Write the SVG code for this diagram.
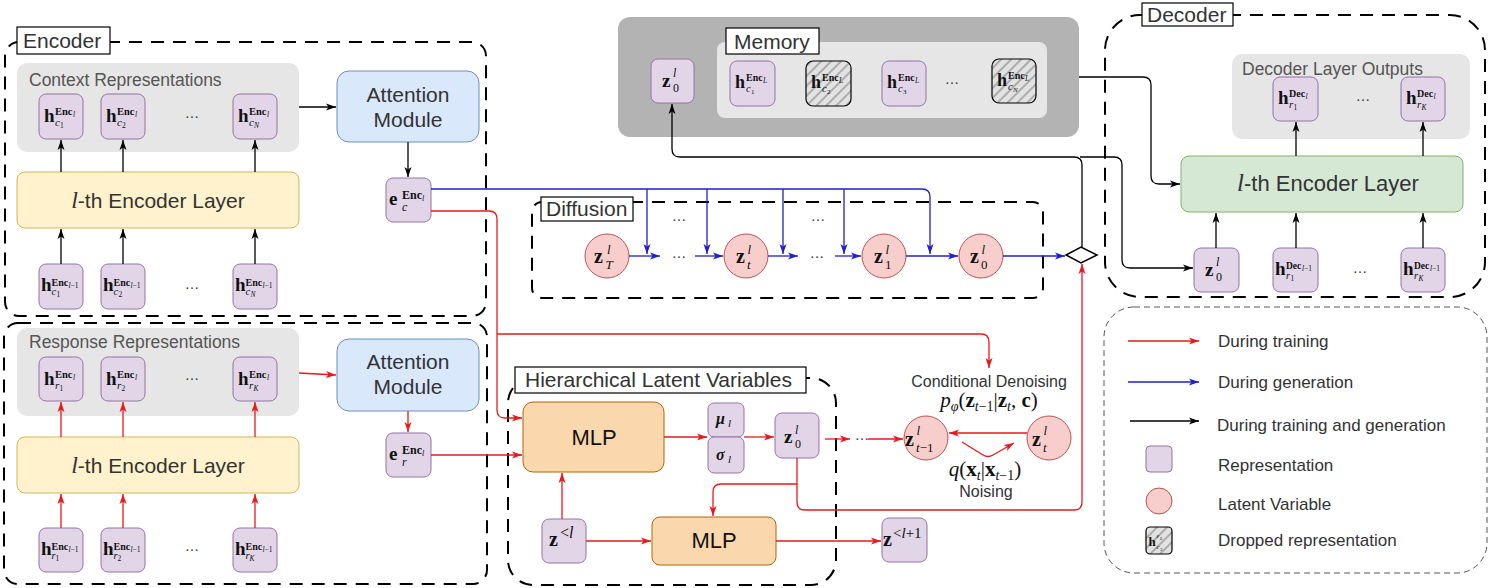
<svg xmlns="http://www.w3.org/2000/svg" width="1488" height="588" viewBox="0 0 1488 588">
<defs>
<style>
.t{font-family:"Liberation Sans",Arial,sans-serif;fill:#333}
.tg{font-family:"Liberation Sans",Arial,sans-serif;fill:#555;font-size:17.5px}
.m{font-family:"Liberation Serif","Times New Roman",serif;fill:#111}
.b{font-weight:bold}
.i{font-style:italic}
.bi{font-weight:bold;font-style:italic}
.rep{fill:#e1d5e7;stroke:#9673a6;stroke-width:1}
.lat{fill:#f8cecc;stroke:#b85450;stroke-width:1}
.grey{fill:#e6e6e6}
.grp{fill:none;stroke:#000;stroke-width:2;stroke-dasharray:13 9}
.lbl{fill:#fff;stroke:#000;stroke-width:1.2}
.att{fill:#dae8fc;stroke:#6c8ebf;stroke-width:1}
.yel{fill:#fff2cc;stroke:#d6b656;stroke-width:1}
.grn{fill:#d5e8d4;stroke:#82b366;stroke-width:1}
.mlp{fill:#fad7ac;stroke:#b46504;stroke-width:1}
.hat{fill:url(#hatch);stroke:#000;stroke-width:1.2}
.k{fill:none;stroke:#000;stroke-width:1.3;marker-end:url(#ak)}
.r{fill:none;stroke:#e8191c;stroke-width:1.3;marker-end:url(#ar)}
.u{fill:none;stroke:#1f1fcc;stroke-width:1.3;marker-end:url(#au)}
.dots{font-family:"Liberation Serif",serif;font-size:14px;fill:#333;text-anchor:middle}
</style>
<marker id="ak" viewBox="0 0 10 10" refX="10" refY="5" markerWidth="10" markerHeight="10" markerUnits="userSpaceOnUse" orient="auto"><path d="M0,1.5 L10,5 L0,8.5 L2.5,5 Z" fill="#000"/></marker>
<marker id="ar" viewBox="0 0 10 10" refX="10" refY="5" markerWidth="10" markerHeight="10" markerUnits="userSpaceOnUse" orient="auto"><path d="M0,1.5 L10,5 L0,8.5 L2.5,5 Z" fill="#e8191c"/></marker>
<marker id="au" viewBox="0 0 10 10" refX="10" refY="5" markerWidth="10" markerHeight="10" markerUnits="userSpaceOnUse" orient="auto"><path d="M0,1.5 L10,5 L0,8.5 L2.5,5 Z" fill="#1f1fcc"/></marker>
<pattern id="hatch" patternUnits="userSpaceOnUse" width="7" height="7" patternTransform="rotate(45)"><rect width="7" height="7" fill="#e2e2e2"/><line x1="1" y1="0" x2="1" y2="7" stroke="#9a9a9a" stroke-width="1.5"/></pattern>
</defs>
<rect width="1488" height="588" fill="#fff"/>

<!-- ================= ENCODER (context) ================= -->
<g id="encoder-context">
<rect class="grp" x="5" y="42" width="481" height="274" rx="14"/>
<rect class="lbl" x="17" y="27" width="93" height="27"/>
<text class="t" x="23" y="48" font-size="21">Encoder</text>
<rect class="grey" x="17" y="63" width="282" height="89" rx="10"/>
<text class="tg" x="29" y="86">Context Representations</text>
</g>
<g id="h-c1">
<rect class="rep" x="39" y="94" width="44" height="45" rx="7"/>
<text class="m"><tspan class="b" x="44" y="122" font-size="19">h</tspan><tspan class="b" x="55" y="115" font-size="10.5">Enc</tspan><tspan class="i" x="73" y="117" font-size="7.5">l</tspan><tspan class="i" x="55" y="126" font-size="11">c</tspan><tspan x="60" y="128" font-size="7.5">1</tspan></text>
</g>
<g id="h-c2">
<rect class="rep" x="101" y="94" width="44" height="45" rx="7"/>
<text class="m"><tspan class="b" x="106" y="122" font-size="19">h</tspan><tspan class="b" x="117" y="115" font-size="10.5">Enc</tspan><tspan class="i" x="135" y="117" font-size="7.5">l</tspan><tspan class="i" x="117" y="126" font-size="11">c</tspan><tspan x="122" y="128" font-size="7.5">2</tspan></text>
</g>
<text class="dots" x="192" y="118">…</text>
<g id="h-cN">
<rect class="rep" x="233" y="94" width="44" height="45" rx="7"/>
<text class="m"><tspan class="b" x="238" y="122" font-size="19">h</tspan><tspan class="b" x="249" y="115" font-size="10.5">Enc</tspan><tspan class="i" x="267" y="117" font-size="7.5">l</tspan><tspan class="i" x="249" y="126" font-size="11">c</tspan><tspan class="i" x="254" y="128" font-size="7.5">N</tspan></text>
</g>
<g id="enc-layer-c">
<rect class="yel" x="17" y="172" width="282" height="56" rx="8"/>
<text class="t" x="158" y="208" font-size="21" text-anchor="middle"><tspan font-family="'Liberation Serif',serif" font-style="italic" font-size="24">l</tspan>-th Encoder Layer</text>
</g>
<g id="hprev-c1">
<rect class="rep" x="39" y="264" width="44" height="45" rx="7"/>
<text class="m"><tspan class="b" x="41" y="291" font-size="19">h</tspan><tspan class="b" x="51.5" y="285.5" font-size="10">Enc</tspan><tspan x="68.5" y="287.5" font-size="7.5"><tspan class="i">l</tspan>−1</tspan><tspan class="i" x="51.5" y="295" font-size="10.5">c</tspan><tspan x="56.5" y="297" font-size="7.5">1</tspan></text>
</g>
<g id="hprev-c2">
<rect class="rep" x="101" y="264" width="44" height="45" rx="7"/>
<text class="m"><tspan class="b" x="103" y="291" font-size="19">h</tspan><tspan class="b" x="113.5" y="285.5" font-size="10">Enc</tspan><tspan x="130.5" y="287.5" font-size="7.5"><tspan class="i">l</tspan>−1</tspan><tspan class="i" x="113.5" y="295" font-size="10.5">c</tspan><tspan x="118.5" y="297" font-size="7.5">2</tspan></text>
</g>
<text class="dots" x="192" y="289">…</text>
<g id="hprev-cN">
<rect class="rep" x="233" y="264" width="44" height="45" rx="7"/>
<text class="m"><tspan class="b" x="235" y="291" font-size="19">h</tspan><tspan class="b" x="245.5" y="285.5" font-size="10">Enc</tspan><tspan x="262.5" y="287.5" font-size="7.5"><tspan class="i">l</tspan>−1</tspan><tspan class="i" x="245.5" y="295" font-size="10.5">c</tspan><tspan class="i" x="250.5" y="297" font-size="7.5">N</tspan></text>
</g>
<g id="attention-c">
<rect class="att" x="337" y="71" width="142" height="71" rx="12"/>
<text class="t" x="408" y="102" font-size="21" text-anchor="middle">Attention</text>
<text class="t" x="408" y="127" font-size="21" text-anchor="middle">Module</text>
</g>
<g id="e-c">
<rect class="rep" x="386" y="178" width="45" height="44" rx="7"/>
<text class="m"><tspan class="b" x="389" y="205" font-size="19">e</tspan><tspan class="b" x="402" y="199" font-size="12">Enc</tspan><tspan class="i" x="422" y="201" font-size="8">l</tspan><tspan class="i" x="402" y="211" font-size="12">c</tspan></text>
</g>

<!-- ================= ENCODER (response) ================= -->
<g id="encoder-response">
<rect class="grp" x="4" y="323" width="483" height="261" rx="14"/>
<rect class="grey" x="17" y="328" width="282" height="88" rx="10"/>
<text class="tg" x="29" y="348">Response Representations</text>
</g>
<g id="h-r1">
<rect class="rep" x="39" y="357" width="44" height="44" rx="7"/>
<text class="m"><tspan class="b" x="44" y="385" font-size="19">h</tspan><tspan class="b" x="55" y="378" font-size="10.5">Enc</tspan><tspan class="i" x="73" y="380" font-size="7.5">l</tspan><tspan class="i" x="55" y="389" font-size="11">r</tspan><tspan x="59.5" y="391" font-size="7.5">1</tspan></text>
</g>
<g id="h-r2">
<rect class="rep" x="101" y="357" width="44" height="44" rx="7"/>
<text class="m"><tspan class="b" x="106" y="385" font-size="19">h</tspan><tspan class="b" x="117" y="378" font-size="10.5">Enc</tspan><tspan class="i" x="135" y="380" font-size="7.5">l</tspan><tspan class="i" x="117" y="389" font-size="11">r</tspan><tspan x="121.5" y="391" font-size="7.5">2</tspan></text>
</g>
<text class="dots" x="192" y="380">…</text>
<g id="h-rK">
<rect class="rep" x="233" y="357" width="44" height="44" rx="7"/>
<text class="m"><tspan class="b" x="238" y="385" font-size="19">h</tspan><tspan class="b" x="249" y="378" font-size="10.5">Enc</tspan><tspan class="i" x="267" y="380" font-size="7.5">l</tspan><tspan class="i" x="249" y="389" font-size="11">r</tspan><tspan class="i" x="253.5" y="391" font-size="7.5">K</tspan></text>
</g>
<g id="enc-layer-r">
<rect class="yel" x="17" y="437" width="282" height="56" rx="8"/>
<text class="t" x="158" y="473" font-size="21" text-anchor="middle"><tspan font-family="'Liberation Serif',serif" font-style="italic" font-size="24">l</tspan>-th Encoder Layer</text>
</g>
<g id="hprev-r1">
<rect class="rep" x="39" y="528" width="44" height="44" rx="7"/>
<text class="m"><tspan class="b" x="41" y="555" font-size="19">h</tspan><tspan class="b" x="51.5" y="549.5" font-size="10">Enc</tspan><tspan x="68.5" y="551.5" font-size="7.5"><tspan class="i">l</tspan>−1</tspan><tspan class="i" x="51.5" y="559" font-size="10.5">r</tspan><tspan x="55.5" y="561" font-size="7.5">1</tspan></text>
</g>
<g id="hprev-r2">
<rect class="rep" x="101" y="528" width="44" height="44" rx="7"/>
<text class="m"><tspan class="b" x="103" y="555" font-size="19">h</tspan><tspan class="b" x="113.5" y="549.5" font-size="10">Enc</tspan><tspan x="130.5" y="551.5" font-size="7.5"><tspan class="i">l</tspan>−1</tspan><tspan class="i" x="113.5" y="559" font-size="10.5">r</tspan><tspan x="117.5" y="561" font-size="7.5">2</tspan></text>
</g>
<text class="dots" x="192" y="551">…</text>
<g id="hprev-rK">
<rect class="rep" x="233" y="528" width="44" height="44" rx="7"/>
<text class="m"><tspan class="b" x="235" y="555" font-size="19">h</tspan><tspan class="b" x="245.5" y="549.5" font-size="10">Enc</tspan><tspan x="262.5" y="551.5" font-size="7.5"><tspan class="i">l</tspan>−1</tspan><tspan class="i" x="245.5" y="559" font-size="10.5">r</tspan><tspan class="i" x="249.5" y="561" font-size="7.5">K</tspan></text>
</g>
<g id="attention-r">
<rect class="att" x="337" y="339" width="142" height="72" rx="12"/>
<text class="t" x="408" y="369" font-size="21" text-anchor="middle">Attention</text>
<text class="t" x="408" y="394" font-size="21" text-anchor="middle">Module</text>
</g>
<g id="e-r">
<rect class="rep" x="386" y="433" width="45" height="44" rx="7"/>
<text class="m"><tspan class="b" x="389" y="460" font-size="19">e</tspan><tspan class="b" x="402" y="454" font-size="12">Enc</tspan><tspan class="i" x="422" y="456" font-size="8">l</tspan><tspan class="i" x="402" y="466" font-size="12">r</tspan></text>
</g>

<!-- ================= MEMORY ================= -->
<g id="memory">
<rect x="618" y="17" width="461" height="120" rx="12" fill="#b3b3b3"/>
<rect class="grey" x="717" y="42" width="330" height="76" rx="8"/>
<rect class="lbl" x="726" y="28" width="93" height="26"/>
<text class="t" x="734" y="49" font-size="21">Memory</text>
</g>
<g id="mem-z0">
<rect class="rep" x="651" y="59" width="43" height="44" rx="7"/>
<text class="m"><tspan class="b" x="662" y="87" font-size="19">z</tspan><tspan class="i" x="673" y="77" font-size="12">l</tspan><tspan x="673" y="92" font-size="12">0</tspan></text>
</g>
<g id="mem-h-c1">
<rect class="rep" x="730" y="61" width="45" height="45" rx="7"/>
<text class="m"><tspan class="b" x="735" y="88" font-size="18">h</tspan><tspan class="b" x="746" y="81" font-size="10">Enc</tspan><tspan class="i" x="763" y="83" font-size="7.5">L</tspan><tspan class="i" x="746" y="92" font-size="10.5">c</tspan><tspan x="751" y="94" font-size="7">1</tspan></text>
</g>
<g id="mem-h-c2">
<rect class="hat" x="806" y="61" width="45" height="45" rx="7"/>
<text class="m"><tspan class="b" x="811" y="88" font-size="18">h</tspan><tspan class="b" x="822" y="81" font-size="10">Enc</tspan><tspan class="i" x="839" y="83" font-size="7.5">L</tspan><tspan class="i" x="822" y="92" font-size="10.5">c</tspan><tspan x="827" y="94" font-size="7">2</tspan></text>
</g>
<g id="mem-h-c3">
<rect class="rep" x="882" y="61" width="44" height="45" rx="7"/>
<text class="m"><tspan class="b" x="887" y="88" font-size="18">h</tspan><tspan class="b" x="898" y="81" font-size="10">Enc</tspan><tspan class="i" x="915" y="83" font-size="7.5">L</tspan><tspan class="i" x="898" y="92" font-size="10.5">c</tspan><tspan x="903" y="94" font-size="7">3</tspan></text>
</g>
<text class="dots" x="952" y="84">…</text>
<g id="mem-h-cN">
<rect class="hat" x="992" y="59" width="44" height="44" rx="7"/>
<text class="m"><tspan class="b" x="997" y="86" font-size="18">h</tspan><tspan class="b" x="1008" y="79" font-size="10">Enc</tspan><tspan class="i" x="1025" y="81" font-size="7.5">L</tspan><tspan class="i" x="1008" y="90" font-size="10.5">c</tspan><tspan class="i" x="1013" y="92" font-size="7">N</tspan></text>
</g>

<!-- ================= DECODER ================= -->
<g id="decoder">
<rect class="grp" x="1105" y="15" width="380" height="282" rx="35"/>
<rect class="lbl" x="1142" y="3" width="91" height="23"/>
<text class="t" x="1147" y="22" font-size="21">Decoder</text>
<rect class="grey" x="1232" y="54" width="238" height="85" rx="10"/>
<text class="tg" x="1242" y="75">Decoder Layer Outputs</text>
</g>
<g id="dec-h-r1">
<rect class="rep" x="1273" y="77" width="45" height="44" rx="7"/>
<text class="m"><tspan class="b" x="1278" y="104" font-size="19">h</tspan><tspan class="b" x="1289" y="97" font-size="10">Dec</tspan><tspan class="i" x="1305.5" y="99" font-size="7.5">l</tspan><tspan class="i" x="1289" y="108" font-size="11">r</tspan><tspan x="1293.5" y="110" font-size="7.5">1</tspan></text>
</g>
<text class="dots" x="1363" y="101">…</text>
<g id="dec-h-rK">
<rect class="rep" x="1401" y="77" width="44" height="44" rx="7"/>
<text class="m"><tspan class="b" x="1406" y="104" font-size="19">h</tspan><tspan class="b" x="1417" y="97" font-size="10">Dec</tspan><tspan class="i" x="1433.5" y="99" font-size="7.5">l</tspan><tspan class="i" x="1417" y="108" font-size="11">r</tspan><tspan class="i" x="1421.5" y="110" font-size="7.5">K</tspan></text>
</g>
<g id="dec-layer">
<rect class="grn" x="1181" y="156" width="282" height="56" rx="8"/>
<text class="t" x="1328" y="191" font-size="22" text-anchor="middle"><tspan font-family="'Liberation Serif',serif" font-style="italic" font-size="25">l</tspan>-th Encoder Layer</text>
</g>
<g id="dec-z0">
<rect class="rep" x="1194" y="248" width="45" height="44" rx="7"/>
<text class="m"><tspan class="b" x="1205" y="276" font-size="19">z</tspan><tspan class="i" x="1216" y="266" font-size="12">l</tspan><tspan x="1216" y="281" font-size="12">0</tspan></text>
</g>
<g id="dec-hprev-r1">
<rect class="rep" x="1273" y="248" width="45" height="44" rx="7"/>
<text class="m"><tspan class="b" x="1275" y="275" font-size="19">h</tspan><tspan class="b" x="1286" y="268.5" font-size="9.5">Dec</tspan><tspan x="1302" y="270.5" font-size="7.5"><tspan class="i">l</tspan>−1</tspan><tspan class="i" x="1286" y="279" font-size="10.5">r</tspan><tspan x="1290.5" y="281" font-size="7.5">1</tspan></text>
</g>
<text class="dots" x="1360" y="273">…</text>
<g id="dec-hprev-rK">
<rect class="rep" x="1401" y="248" width="44" height="44" rx="7"/>
<text class="m"><tspan class="b" x="1403" y="275" font-size="19">h</tspan><tspan class="b" x="1414" y="268.5" font-size="9.5">Dec</tspan><tspan x="1430" y="270.5" font-size="7.5"><tspan class="i">l</tspan>−1</tspan><tspan class="i" x="1414" y="279" font-size="10.5">r</tspan><tspan class="i" x="1418.5" y="281" font-size="7.5">K</tspan></text>
</g>

<!-- ================= DIFFUSION ================= -->
<g id="diffusion">
<rect class="grp" x="532" y="202" width="511" height="96" rx="10"/>
<rect class="lbl" x="541" y="197" width="92" height="24"/>
<text class="t" x="546" y="216" font-size="21">Diffusion</text>
<text class="dots" x="679" y="221">…</text>
<text class="dots" x="818" y="221">…</text>
<text class="dots" x="679" y="258">…</text>
<text class="dots" x="817" y="258">…</text>
</g>
<g id="z-T">
<circle class="lat" cx="607" cy="256" r="22"/>
<text class="m"><tspan class="b" x="594" y="263" font-size="20">z</tspan><tspan class="i" x="607" y="254" font-size="13">l</tspan><tspan class="i" x="605.5" y="269" font-size="13">T</tspan></text>
</g>
<g id="z-t">
<circle class="lat" cx="746" cy="256" r="22"/>
<text class="m"><tspan class="b" x="736" y="263" font-size="20">z</tspan><tspan class="i" x="747.5" y="254" font-size="13">l</tspan><tspan class="i" x="747" y="269" font-size="13">t</tspan></text>
</g>
<g id="z-1">
<circle class="lat" cx="884" cy="256" r="22"/>
<text class="m"><tspan class="b" x="874" y="263" font-size="20">z</tspan><tspan class="i" x="885.5" y="254" font-size="13">l</tspan><tspan x="885" y="269" font-size="13">1</tspan></text>
</g>
<g id="z-0">
<circle class="lat" cx="981" cy="256" r="22"/>
<text class="m"><tspan class="b" x="970" y="263" font-size="20">z</tspan><tspan class="i" x="981.5" y="254" font-size="13">l</tspan><tspan x="981" y="269" font-size="13">0</tspan></text>
</g>
<g id="merge">
<polygon points="1066,255 1081,247 1097,255 1081,263" fill="#fff" stroke="#000" stroke-width="1.5"/>
</g>

<!-- ================= HIERARCHICAL LATENT VARIABLES ================= -->
<g id="hierarchical">
<rect class="grp" x="508" y="378" width="328" height="207" rx="25"/>
<rect class="lbl" x="515" y="367" width="291" height="26"/>
<text class="t" x="525" y="387" font-size="21">Hierarchical Latent Variables</text>
</g>
<g id="mlp1">
<rect class="mlp" x="523" y="402" width="141" height="70" rx="10"/>
<text class="t" x="594" y="445" font-size="22" text-anchor="middle" style="fill:#111">MLP</text>
</g>
<g id="mu">
<rect class="rep" x="708" y="403" width="36" height="34" rx="6"/>
<text class="m"><tspan class="bi" x="716" y="424" font-size="16">μ</tspan><tspan class="i" x="728" y="427" font-size="11">l</tspan></text>
</g>
<g id="sigma">
<rect class="rep" x="708" y="437" width="36" height="36" rx="6"/>
<text class="m"><tspan class="bi" x="716" y="460" font-size="16">σ</tspan><tspan class="i" x="728" y="463" font-size="11">l</tspan></text>
</g>
<g id="hz0">
<rect class="rep" x="775" y="413" width="44" height="45" rx="7"/>
<text class="m"><tspan class="b" x="784" y="443" font-size="19">z</tspan><tspan class="i" x="795" y="434" font-size="12">l</tspan><tspan x="795" y="448" font-size="12">0</tspan></text>
</g>
<g id="z-lt-l">
<rect class="rep" x="542" y="519" width="44" height="44" rx="7"/>
<text class="m"><tspan class="b" x="549" y="546" font-size="20">z</tspan><tspan x="560" y="538" font-size="16">&lt;<tspan class="i">l</tspan></tspan></text>
</g>
<g id="mlp2">
<rect class="mlp" x="652" y="517" width="124" height="48" rx="8"/>
<text class="t" x="714" y="548" font-size="22" text-anchor="middle" style="fill:#111">MLP</text>
</g>
<g id="z-lt-l1">
<rect class="rep" x="882" y="518" width="45" height="44" rx="7"/>
<text class="m"><tspan class="b" x="883" y="546" font-size="20">z</tspan><tspan x="893" y="538" font-size="15">&lt;<tspan class="i">l</tspan>+1</tspan></text>
</g>
<g id="z-tm1">
<circle class="lat" cx="926" cy="438" r="22"/>
<text class="m"><tspan class="b" x="905" y="446" font-size="20">z</tspan><tspan class="i" x="916.5" y="435" font-size="13">l</tspan><tspan x="916" y="452" font-size="13"><tspan class="i">t</tspan>−1</tspan></text>
</g>
<g id="z-t2">
<circle class="lat" cx="1049" cy="438" r="22"/>
<text class="m"><tspan class="b" x="1032" y="446" font-size="20">z</tspan><tspan class="i" x="1043.5" y="435" font-size="13">l</tspan><tspan class="i" x="1043" y="452" font-size="13">t</tspan></text>
</g>
<g id="denoise-labels">
<text class="t" x="989" y="387" font-size="16" text-anchor="middle">Conditional Denoising</text>
<text class="m" x="989" y="407" font-size="21" text-anchor="middle"><tspan class="i">p</tspan><tspan class="i" font-size="14" dy="4">φ</tspan><tspan dy="-4">(</tspan><tspan class="b">z</tspan><tspan font-size="14" dy="4"><tspan class="i">t</tspan>−1</tspan><tspan dy="-4">|</tspan><tspan class="b">z</tspan><tspan class="i" font-size="14" dy="4">t</tspan><tspan dy="-4">, </tspan><tspan class="b">c</tspan>)</text>
<text class="m" x="985" y="476" font-size="21" text-anchor="middle"><tspan class="i">q</tspan>(<tspan class="b">x</tspan><tspan class="i" font-size="14" dy="4">t</tspan><tspan dy="-4">|</tspan><tspan class="b">x</tspan><tspan font-size="14" dy="4"><tspan class="i">t</tspan>−1</tspan><tspan dy="-4">)</tspan></text>
<text class="t" x="986" y="497" font-size="16" text-anchor="middle">Noising</text>
<text class="dots" x="862" y="440">…</text>
</g>

<!-- ================= LEGEND ================= -->
<g id="legend">
<rect x="1104" y="307" width="383" height="266" rx="30" fill="none" stroke="#555" stroke-width="1" stroke-dasharray="6 4"/>
<path class="r" d="M1128,341 H1199"/>
<path class="u" d="M1128,382 H1199"/>
<path class="k" d="M1130,421 H1199"/>
<text class="t" x="1218" y="347" font-size="17">During training</text>
<text class="t" x="1218" y="388" font-size="17">During generation</text>
<text class="t" x="1217" y="431" font-size="17">During training and generation</text>
<rect class="rep" x="1146" y="446" width="26" height="26" rx="4"/>
<text class="t" x="1218" y="471" font-size="17">Representation</text>
<circle class="lat" cx="1159" cy="501" r="13"/>
<text class="t" x="1218" y="510" font-size="17">Latent Variable</text>
<rect class="hat" x="1146" y="527" width="26" height="27" rx="4"/>
<text class="m"><tspan class="b" x="1148.5" y="546" font-size="13">h</tspan><tspan class="i" x="1156.5" y="538" font-size="7">ε</tspan><tspan class="i" x="1160" y="540" font-size="5">L</tspan><tspan class="i" x="1156.5" y="549" font-size="7">c</tspan><tspan x="1160" y="550.5" font-size="5">2</tspan></text>
<text class="t" x="1218" y="546" font-size="17">Dropped representation</text>
</g>

<!-- ================= CONNECTORS ================= -->
<g id="connectors">
<path class="k" d="M61,172 V140"/>
<path class="k" d="M123,172 V140"/>
<path class="k" d="M255,172 V140"/>
<path class="k" d="M61,264 V229"/>
<path class="k" d="M123,264 V229"/>
<path class="k" d="M255,264 V229"/>
<path class="k" d="M299,107 H336"/>
<path class="k" d="M408,142 V177"/>
<path class="k" d="M1079,77 H1143 Q1151,77 1151,85 V176 Q1151,184 1159,184 H1180"/>
<path class="k" d="M1082,247 V165 Q1082,157 1074,157 H680 Q672,157 672,149 V104"/>
<path class="k" d="M1080,157 H1114 Q1122,157 1122,165 V260 Q1122,268 1130,268 H1193"/>
<path class="k" d="M1216,248 V213"/>
<path class="k" d="M1296,248 V213"/>
<path class="k" d="M1423,248 V213"/>
<path class="k" d="M1296,156 V122"/>
<path class="k" d="M1423,156 V122"/>
<path class="r" d="M61,437 V402"/>
<path class="r" d="M123,437 V402"/>
<path class="r" d="M255,437 V402"/>
<path class="r" d="M61,528 V494"/>
<path class="r" d="M123,528 V494"/>
<path class="r" d="M255,528 V494"/>
<path class="r" d="M299,373 L336,375"/>
<path class="r" d="M408,411 V432"/>
<path class="r" d="M431,455 H522"/>
<path class="r" d="M431,211 H489 Q497,211 497,219 V410 Q497,418 505,418 H522"/>
<path class="r" d="M497,334 H981 Q989,334 989,342 V368"/>
<path class="r" d="M664,437 H707"/>
<path class="r" d="M744,437 H774"/>
<path class="r" d="M825,439 H850"/>
<path class="r" d="M868,439 H903"/>
<path class="r" d="M1027,433 H949"/>
<path class="r" d="M962,442 L983,455 Q988,458 993,455 L1014,443"/>
<path class="r" d="M797,458 V502 Q797,510 805,510 H1074 Q1082,510 1082,502 V264"/>
<path class="r" d="M797,484 H721 Q713,484 713,492 V516"/>
<path class="r" d="M562,519 V473"/>
<path class="r" d="M586,541 H651"/>
<path class="r" d="M776,541 H881"/>
<path class="u" d="M431,189 H922 Q930,189 930,197 V254"/>
<path class="u" d="M647,189 V254"/>
<path class="u" d="M707,189 V254"/>
<path class="u" d="M783,189 V254"/>
<path class="u" d="M844,189 V254"/>
<path class="u" d="M629,256 H660"/>
<path class="u" d="M695,256 H723"/>
<path class="u" d="M768,256 H798"/>
<path class="u" d="M835,256 H861"/>
<path class="u" d="M906,256 H958"/>
<path class="u" d="M1003,256 H1065"/>
</g>
</svg>
